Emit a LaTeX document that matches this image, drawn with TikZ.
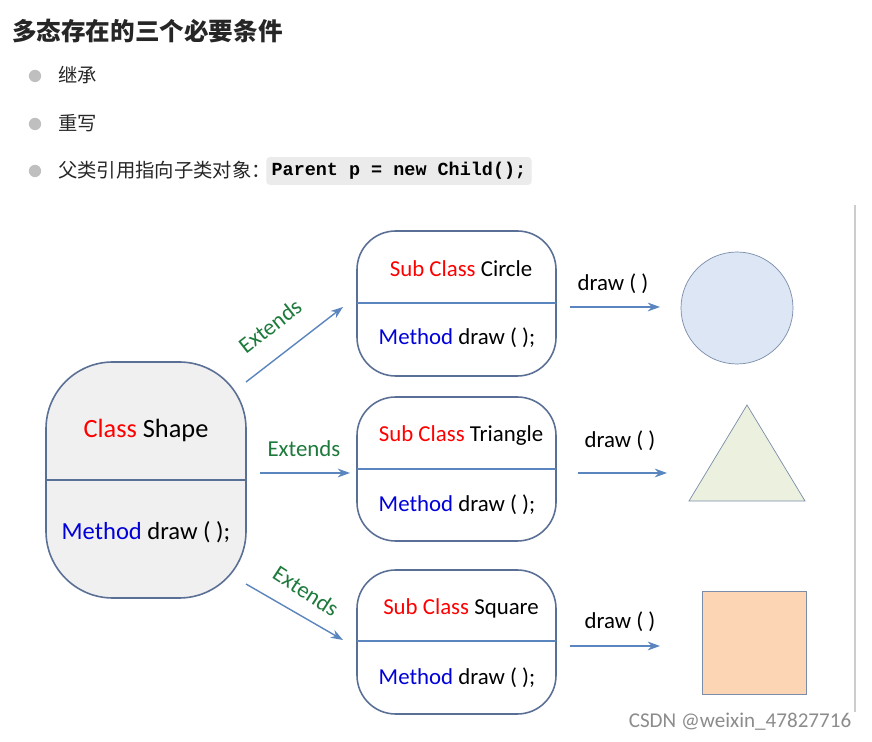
\documentclass[tikz,border=0pt]{standalone}
\usepackage{fontspec}
\setmainfont{Carlito}
\setmonofont{Liberation Mono}
\newfontfamily\cjk{Noto Sans CJK SC}
\usetikzlibrary{arrows.meta}
\definecolor{edge}{HTML}{5A6F95}
\definecolor{arrowblue}{HTML}{5B85BE}
\definecolor{extgreen}{HTML}{1E7A3C}
\tikzset{
  classbox/.style={draw=edge, line width=0.9pt, rounded corners=22pt, fill=white},
  flow/.style={-{Stealth[length=7pt,width=5pt]}, arrowblue, line width=0.8pt},
  ext/.style={extgreen, font=\fontsize{13}{15}\selectfont},
  lbl/.style={font=\fontsize{13}{15}\selectfont},
  bullet/.style={circle, fill=black!25, inner sep=0pt, minimum size=7pt},
  item/.style={anchor=west, font=\cjk\fontsize{11}{13}\selectfont, text=black!85}
}
\begin{document}
\begin{tikzpicture}[x=0.02cm, y=-0.02cm]
  \useasboundingbox[fill=white] (0,0) rectangle (872,742);

  % heading and list
  \node[anchor=west, font=\cjk\bfseries\fontsize{14}{17}\selectfont, text=black!85] (title) at (6,31) {多态存在的三个必要条件};
  \node[bullet] (b1) at (35,76) {};
  \node[bullet] (b2) at (35,124) {};
  \node[bullet] (b3) at (35,171) {};
  \node[item] (t1) at (52,75) {继承};
  \node[item] (t2) at (52,123) {重写};
  \node[item] (t3) at (52,170) {父类引用指向子类对象：};
  \node[anchor=west, fill=black!8, rounded corners=2pt, inner sep=3pt, font=\ttfamily\bfseries\fontsize{10.5}{13}\selectfont] (code) at (266,171) {Parent p = new Child();};

  \draw[black!20, line width=0.8pt] (855,205) -- (855,712);

  % base class
  \draw[classbox, fill=black!6, rounded corners=38pt] (46,362) rectangle (246,598);
  \draw[edge, line width=0.9pt] (46,480) -- (246,480);
  \node[lbl, font=\fontsize{15}{17}\selectfont] (shape) at (146,430) {\textcolor{red}{Class} Shape};
  \node[lbl, font=\fontsize{14}{16}\selectfont] (shapem) at (146,532) {\textcolor{blue!85!black}{Method} draw ( );};

  % sub classes
  \foreach \top/\mid/\bot/\cname/\ty/\my [count=\i] in
      {231/303/376/Circle/269/338, 397/469/541/Triangle/436/505, 570/641/714/Square/608/678} {
    \draw[classbox] (357,\top) rectangle (556,\bot);
    \draw[arrowblue, line width=0.9pt] (357,\mid) -- (556,\mid);
    \node[lbl] (sub\i) at (461,\ty) {\textcolor{red}{Sub Class} \cname};
    \node[lbl] (subm\i) at (457,\my) {\textcolor{blue!85!black}{Method} draw ( );};
  }

  % extends arrows
  \coordinate (e1s) at (246,382); \coordinate (e1t) at (343,307);
  \coordinate (e2s) at (260,473); \coordinate (e2t) at (350,473);
  \coordinate (e3s) at (246,584); \coordinate (e3t) at (343,640);
  \draw[flow] (e1s) -- (e1t);
  \draw[flow] (e2s) -- (e2t);
  \draw[flow] (e3s) -- (e3t);
  \node[ext, rotate=38] (x1) at (270,326) {Extends};
  \node[ext] (x2) at (304,449) {Extends};
  \node[ext, rotate=-33] (x3) at (306,591) {Extends};

  % draw arrows
  \coordinate (d1s) at (570,307); \coordinate (d1t) at (660,307);
  \coordinate (d2s) at (578,473); \coordinate (d2t) at (667,473);
  \coordinate (d3s) at (570,646); \coordinate (d3t) at (660,646);
  \draw[flow] (d1s) -- (d1t);
  \draw[flow] (d2s) -- (d2t);
  \draw[flow] (d3s) -- (d3t);
  \node[lbl] (l1) at (613,284) {draw ( )};
  \node[lbl] (l2) at (620,441) {draw ( )};
  \node[lbl] (l3) at (620,622) {draw ( )};

  % shapes
  \draw[edge!80, fill={rgb,255:red,220;green,230;blue,244}] (737,308) circle[radius=56];
  \draw[edge!80, fill={rgb,255:red,235;green,241;blue,222}] (689,501) -- (805,501) -- (747,405) -- cycle;
  \draw[edge!80, fill={rgb,255:red,252;green,213;blue,181}] (702,591) rectangle (806,694);

  \node[black!45, font=\fontsize{12}{14}\selectfont] (mark) at (740,722) {CSDN @weixin\_47827716};
\end{tikzpicture}
\end{document}
